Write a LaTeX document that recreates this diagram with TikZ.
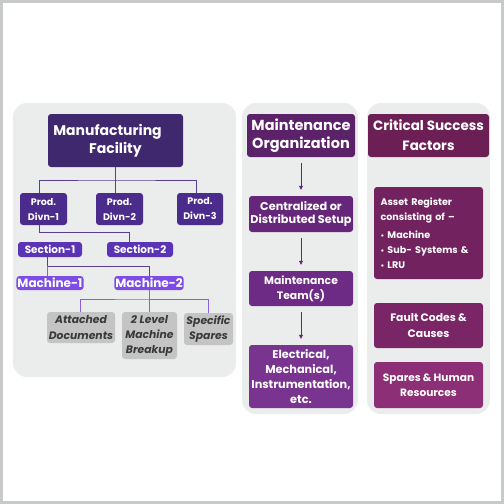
\documentclass[tikz,border=0pt]{standalone}
\usepackage{fontspec}
\setmainfont{Poppins}
\usetikzlibrary{arrows.meta}

\definecolor{panelgrey}{HTML}{EBECEC}
\definecolor{framegrey}{HTML}{C8C9C9}
\definecolor{mfpurple}{HTML}{40286F}
\definecolor{divpurple}{HTML}{4B2C8C}
\definecolor{secpurple}{HTML}{5B33B5}
\definecolor{macpurple}{HTML}{7D4BE6}
\definecolor{boxgrey}{HTML}{C4C4C4}
\definecolor{textgrey}{HTML}{3A3A3A}
\definecolor{linedark}{HTML}{5B3D96}
\definecolor{linelight}{HTML}{8A5FE0}
\definecolor{orgA}{HTML}{5B2169}
\definecolor{orgB}{HTML}{66267A}
\definecolor{orgC}{HTML}{6E2B85}
\definecolor{orgD}{HTML}{78348F}
\definecolor{csfA}{HTML}{6C1F55}
\definecolor{csfB}{HTML}{72225F}
\definecolor{csfC}{HTML}{7A2566}
\definecolor{csfD}{HTML}{8C2F76}

\newcommand\fsz[2]{\fontsize{#1}{#2}\selectfont}

\begin{document}
\begin{tikzpicture}
        [
            x                       = 1pt,
            y                       = -1pt,
            panel/.style            = {fill=panelgrey, rounded corners=14pt},
            boxed/.style            = {shape=rectangle, rounded corners=3pt, align=center,
                                       text=white, font=\bfseries, inner sep=1pt},
            greyboxed/.style        = {shape=rectangle, rounded corners=3pt, align=center,
                                       fill=boxgrey, text=textgrey, font=\bfseries\itshape, inner sep=1pt},
            tree/.style             = {draw=linedark, line width=0.8pt},
            treelight/.style        = {draw=linelight, line width=0.8pt},
            flow/.style             = {draw=orgB, line width=0.8pt, shorten <=6pt, shorten >=6pt,
                                       -{Triangle[length=4pt, width=4pt]}},
            ]
            \useasboundingbox (0,0) rectangle (504,504);
            \draw [framegrey, line width=3pt] (1.5,1.5) rectangle (502.5,502.5);

            % panels
            \fill [panel] (13,103) rectangle (236,377);
            \fill [panel] (242,103) rectangle (358,414);
            \fill [panel] (367,103) rectangle (490,414);

            % manufacturing tree
            \node [boxed, fill=mfpurple, minimum width=135pt, minimum height=53pt, font=\bfseries\fsz{14}{18}]
                (mf) at (115.5,140.5) {Manufacturing\hspace*{16pt}\\Facility};
            \node [boxed, fill=divpurple, minimum width=47pt, minimum height=32pt, font=\bfseries\fsz{9.5}{15}]
                (d1) at (43.5,209) {Prod.\\Divn-1};
            \node [boxed, fill=divpurple, minimum width=47pt, minimum height=32pt, font=\bfseries\fsz{9.5}{15}]
                (d2) at (119.5,209) {Prod.\\Divn-2};
            \node [boxed, fill=divpurple, minimum width=46pt, minimum height=32pt, font=\bfseries\fsz{9.5}{15}]
                (d3) at (200,209) {Prod.\\Divn-3};
            \node [boxed, fill=secpurple, minimum width=64pt, minimum height=15pt, font=\bfseries\fsz{10.5}{12}]
                (s1) at (50,249.5) {Section-1};
            \node [boxed, fill=secpurple, minimum width=66pt, minimum height=15pt, font=\bfseries\fsz{10.5}{12}]
                (s2) at (140,249.5) {Section-2};
            \node [boxed, fill=macpurple, minimum width=66pt, minimum height=14pt, font=\bfseries\fsz{12}{13}]
                (m1) at (50,283) {Machine-1};
            \node [boxed, fill=macpurple, minimum width=68pt, minimum height=14pt, font=\bfseries\fsz{12}{13}]
                (m2) at (149,283) {Machine-2};
            \node [greyboxed, minimum width=68pt, minimum height=31pt, font=\bfseries\itshape\fsz{10.8}{15.5}]
                (ad) at (81,327.5) {Attached\\Documents};
            \node [greyboxed, minimum width=55pt, minimum height=47pt, font=\bfseries\itshape\fsz{10.8}{15}]
                (lv) at (149.5,335.5) {2 Level\\Machine\\Breakup};
            \node [greyboxed, minimum width=49pt, minimum height=32pt, font=\bfseries\itshape\fsz{10.8}{15}]
                (sp) at (208.5,329) {Specific\\Spares};

            \coordinate (j1) at (115.5,180);
            \coordinate (j2) at (39,232);
            \coordinate (j3) at (47,266);
            \coordinate (j4) at (149,299);
            \draw [tree] (mf.south) -- ([xshift=-4pt]d2.north);
            \draw [tree] ([xshift=-4.5pt]d1.north) |- (j1) -| ([xshift=-4pt]d3.north);
            \draw [tree] ([xshift=-4.5pt]d1.south) -- (j2) -| ([xshift=-11pt]s2.north);
            \draw [tree] ([xshift=-3pt]s1.south) -- (j3) -| (m2.north);
            \draw [treelight] (j3) -- ([xshift=-3pt]m1.north);
            \draw [treelight] (m2.south) -- (j4);
            \draw [treelight] ([xshift=-1pt]ad.north) |- (j4) -| (lv.north);
            \draw [treelight] (j4) -| (sp.north);

            % maintenance organization
            \node [boxed, fill=orgA, minimum width=108pt, minimum height=43pt, font=\bfseries\fsz{14.5}{18}]
                (mo) at (301,135.5) {Maintenance\\Organization};
            \node [boxed, fill=orgB, minimum width=104pt, minimum height=36pt, font=\bfseries\fsz{11.3}{13}]
                (cd) at (301,214) {Centralized or\\Distributed Setup};
            \node [boxed, fill=orgC, minimum width=104pt, minimum height=35pt, font=\bfseries\fsz{10.8}{15}]
                (mt) at (301,288.5) {Maintenance\\Team(s)};
            \node [boxed, fill=orgD, minimum width=104pt, minimum height=63pt, font=\bfseries\fsz{11.3}{15}]
                (el) at (301,376.5) {Electrical,\\Mechanical,\\Instrumentation,\\etc.};
            \draw [flow] (mo.south) -- (cd.north);
            \draw [flow] (cd.south) -- (mt.north);
            \draw [flow] (mt.south) -- (el.north);

            % critical success factors
            \node [boxed, fill=csfA, minimum width=121pt, minimum height=43pt, font=\bfseries\fsz{13.5}{20}]
                (csf) at (428.5,135.5) {Critical Success\\Factors};
            \node [boxed, fill=csfB, minimum width=109pt, minimum height=92pt, align=left,
                   text width=96pt, font=\bfseries\fsz{9.6}{15}]
                (ar) at (428.5,233) {Asset Register\\consisting of –\\[3pt]%
                    {\fsz{7.5}{15}•} Machine\\{\fsz{7.5}{15}•} Sub- Systems \&\\{\fsz{7.5}{15}•} LRU};
            \node [boxed, fill=csfC, minimum width=109pt, minimum height=45pt, font=\bfseries\fsz{10.8}{15.5}]
                (fc) at (428.5,325.5) {Fault Codes \&\\Causes};
            \node [boxed, fill=csfD, minimum width=109pt, minimum height=46pt, font=\bfseries\fsz{10.6}{15.5}]
                (sh) at (428.5,385) {Spares \& Human\\Resources};
        \end{tikzpicture}
\end{document}
